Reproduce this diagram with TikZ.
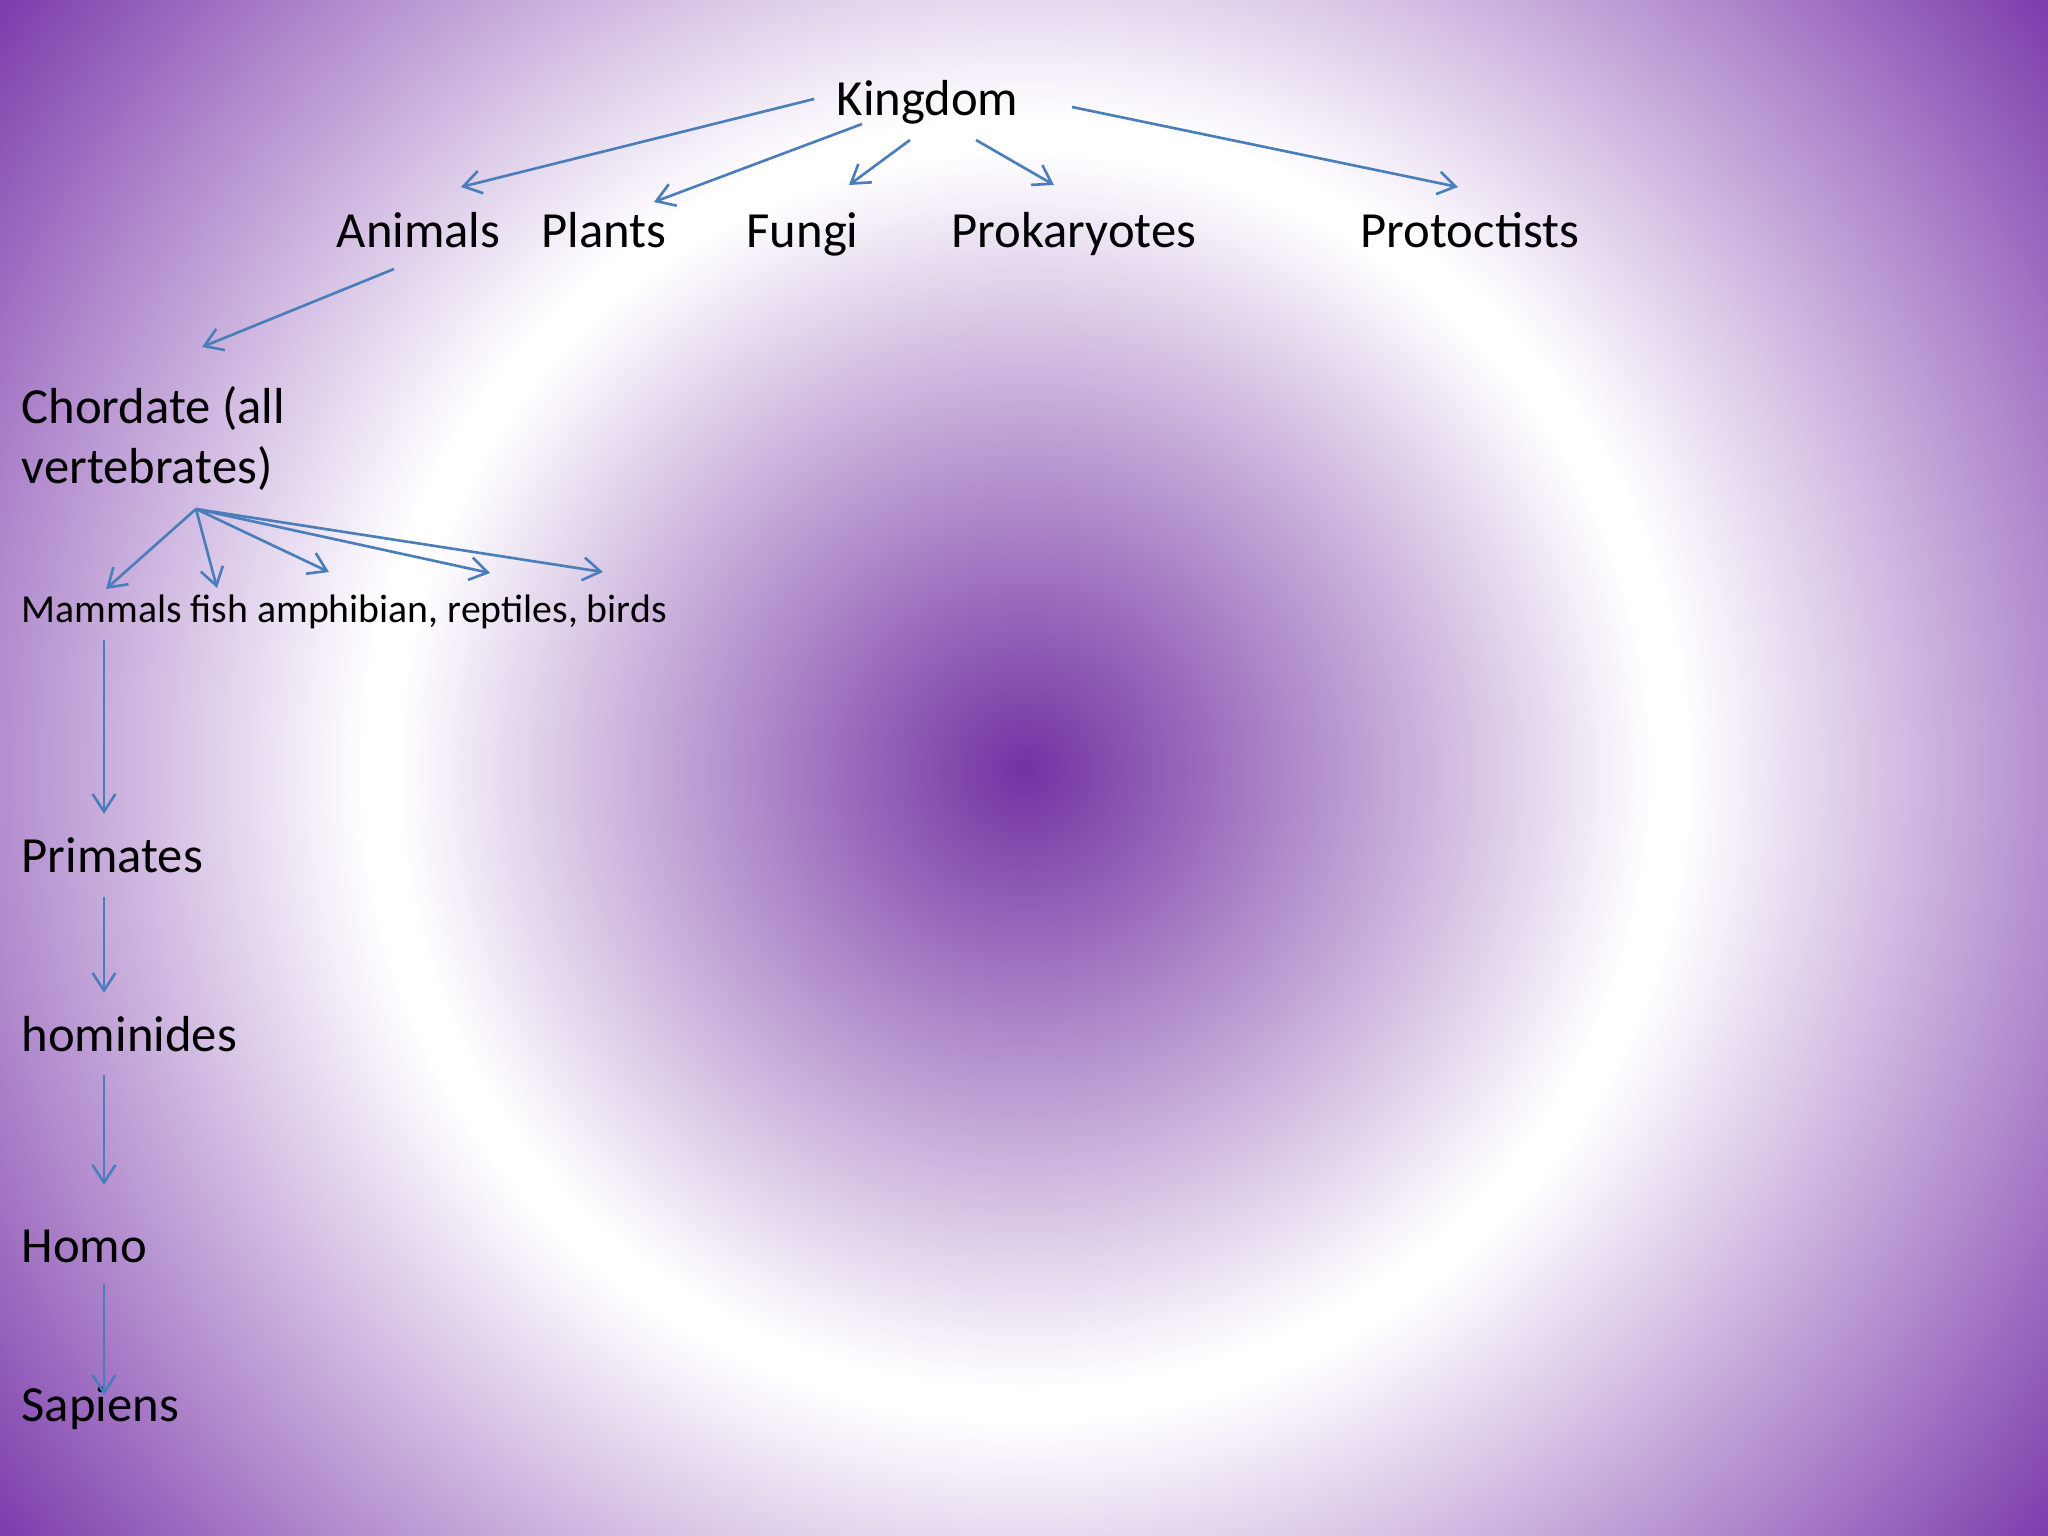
\documentclass[tikz,border=0pt]{standalone}
\usepackage{fontspec}
\setmainfont{Carlito}
\usetikzlibrary{arrows.meta, positioning, calc}
\definecolor{bgPurple}{RGB}{115, 50, 162}
\definecolor{edgePurple}{RGB}{122, 56, 170}
\definecolor{linkBlue}{RGB}{74, 126, 187}
\definecolor{textBlack}{RGB}{0, 0, 0}
\pgfdeclareradialshading{ringShade}{\pgfpoint{0bp}{0bp}}{color(0bp)=(bgPurple); color(12.1bp)=(white); color(12.7bp)=(white); color(25bp)=(edgePurple); color(50bp)=(edgePurple)}
\def\slideW{2048}
\def\slideH{1536}
\tikzset{
    taxon/.style={
        font=\fontsize{14.4}{16.8}\selectfont,
        text=textBlack,
        inner sep=0pt,
        anchor=base west
    },
    taxonSmall/.style={
        taxon,
        font=\fontsize{11.3}{13.5}\selectfont
    },
    link/.style={
        draw=linkBlue,
        line width=0.75pt,
        -{Straight Barb[length=5pt, width=6.5pt]}
    }
}
\begin{document}
\begin{tikzpicture}[x=0.01cm, y=-0.01cm]
    \useasboundingbox (0,0) rectangle (\slideW, \slideH);
    \fill[edgePurple] (0,0) rectangle (\slideW, \slideH);
    \begin{scope}
        \clip (0,0) rectangle (\slideW, \slideH);
        \shade[shading=ringShade] (1025,770) ellipse [x radius=1300, y radius=1280];
    \end{scope}

    % Kingdoms
    \node[taxon] (kingdom) at (836,115) {Kingdom};
    \node[taxon] (animals) at (336,247) {Animals};
    \node[taxon] (plants) at (541,247) {Plants};
    \node[taxon] (fungi) at (746,247) {Fungi};
    \node[taxon] (prokaryotes) at (951,247) {Prokaryotes};
    \node[taxon] (protoctists) at (1360,247) {Protoctists};

    % Animal line
    \node[taxon, align=left] (chordate) at (21,483) {Chordate (all\\vertebrates)};
    \node[taxonSmall] (classes) at (21,622) {Mammals fish amphibian, reptiles, birds};
    \node[taxon] (primates) at (21,872) {Primates};
    \node[taxon] (hominides) at (21,1051) {hominides};
    \node[taxon] (homo) at (21,1262) {Homo};
    \node[taxon] (sapiens) at (21,1421) {Sapiens};

    % Edges
    \draw[link] ([shift={(-22,-16)}]kingdom.base west) -- ([shift={(125,-60)}]animals.base west);
    \draw[link] ([shift={(26,9)}]kingdom.base west) -- ([shift={(113,-45)}]plants.base west);
    \draw[link] ([shift={(74,25)}]kingdom.base west) -- ([shift={(103,-62)}]fungi.base west);
    \draw[link] ([shift={(140,25)}]kingdom.base west) -- ([shift={(103,-62)}]prokaryotes.base west);
    \draw[link] ([shift={(236,-8)}]kingdom.base west) -- ([shift={(98,-60)}]protoctists.base west);
    \draw[link] ([shift={(58,22)}]animals.base west) -- ([shift={(181,-136)}]chordate.base west);

    \coordinate (fan) at ([shift={(175,26)}]chordate.base west);
    \foreach \dx/\dy in {85/-33, 196/-34, 308/-50, 469/-49, 582/-50}
        \draw[link] (fan) -- ([shift={(\dx,\dy)}]classes.base west);

    \draw[link] ([shift={(83,18)}]classes.base west) -- ([shift={(83,-58)}]primates.base west);
    \draw[link] ([shift={(83,25)}]primates.base west) -- ([shift={(83,-58)}]hominides.base west);
    \draw[link] ([shift={(83,24)}]hominides.base west) -- ([shift={(83,-77)}]homo.base west);
    \draw[link] ([shift={(83,22)}]homo.base west) -- ([shift={(83,-26)}]sapiens.base west);
\end{tikzpicture}
\end{document}
